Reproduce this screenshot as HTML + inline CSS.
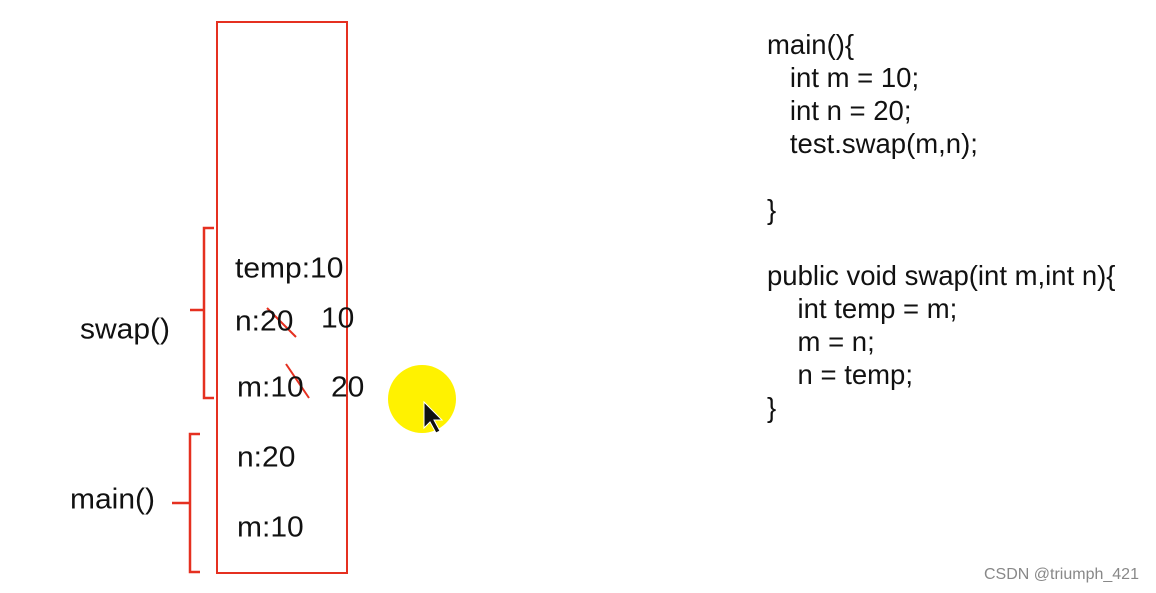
<!DOCTYPE html>
<html><head><meta charset="utf-8"><style>
body{margin:0;width:1156px;height:593px;background:#fff;position:relative;overflow:hidden;font-family:"Liberation Sans",sans-serif;color:#111}
.t{position:absolute;font-size:30px;line-height:30px;white-space:nowrap;transform:scaleY(0.97);transform-origin:0 0}
.c{position:absolute;font-size:27.5px;line-height:33px;white-space:pre;left:767px;top:28px}
</style></head><body>
<svg width="1156" height="593" style="position:absolute;left:0;top:0">
<rect x="217" y="22" width="130" height="551" fill="none" stroke="#e53020" stroke-width="2"/>
<path d="M214 228 H204 V310 H190 M204 310 V398 H214" fill="none" stroke="#e53020" stroke-width="2.5"/>
<path d="M200 434 H190 V503 H172 M190 503 V572 H200" fill="none" stroke="#e53020" stroke-width="2.5"/>
<line x1="267" y1="308" x2="296" y2="337" stroke="#e53020" stroke-width="2"/>
<line x1="286" y1="364" x2="309" y2="398" stroke="#e53020" stroke-width="2"/>
<circle cx="422" cy="399" r="34" fill="#fff200"/>
<path d="M424 402 L424 428 L430 422 L436 433 L440 431 L434 420 L442 420 Z" fill="#111" stroke="#fff" stroke-width="1"/>
</svg>
<div class="t" style="left:235px;top:254px">temp:10</div>
<div class="t" style="left:235px;top:307px">n:20</div>
<div class="t" style="left:321px;top:304px">10</div>
<div class="t" style="left:237px;top:373px">m:10</div>
<div class="t" style="left:331px;top:373px">20</div>
<div class="t" style="left:237px;top:443px">n:20</div>
<div class="t" style="left:237px;top:513px">m:10</div>
<div class="t" style="left:80px;top:315px">swap()</div>
<div class="t" style="left:70px;top:485px">main()</div>
<div class="c">main(){
   int m = 10;
   int n = 20;
   test.swap(m,n);

}

public void swap(int m,int n){
    int temp = m;
    m = n;
    n = temp;
}</div>
<div style="position:absolute;left:984px;top:566px;font-size:16px;color:#888">CSDN @triumph_421</div>
</body></html>
